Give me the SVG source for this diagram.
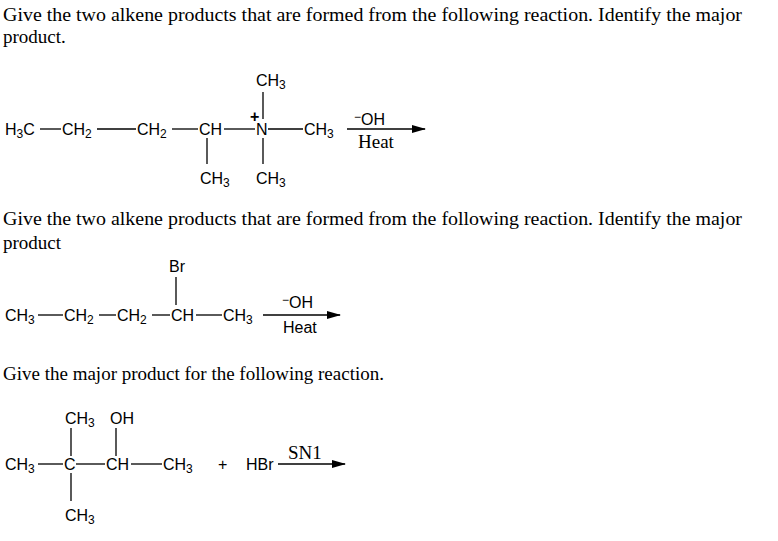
<svg xmlns="http://www.w3.org/2000/svg" width="778" height="541" viewBox="0 0 778 541">
<style>
.q{font-family:"Liberation Serif",serif;font-size:19px;fill:#000}
.c{font-family:"Liberation Sans",Arial,sans-serif;font-size:16px;fill:#000}
.s{font-size:12px}
line{stroke:#000;stroke-width:1.3}
</style>
<defs><marker id="ah" markerWidth="14" markerHeight="8" refX="13" refY="4" orient="auto" markerUnits="userSpaceOnUse"><path d="M0,0 L14,4 L0,8 Z" fill="#000"/></marker></defs>
<rect width="778" height="541" fill="#fff"/>
<g id="q1">
<text class="q" x="3" y="21" textLength="739" lengthAdjust="spacingAndGlyphs">Give the two alkene products that are formed from the following reaction. Identify the major</text>
<text class="q" x="3" y="43">product.</text>
</g>
<g id="m1">
<text class="c" x="5" y="135">H<tspan class="s" dy="3">3</tspan><tspan dy="-3">C</tspan></text>
<text class="c" x="62" y="135">CH<tspan class="s" dy="3">2</tspan></text>
<text class="c" x="137" y="135">CH<tspan class="s" dy="3">2</tspan></text>
<text class="c" x="199" y="135">CH</text>
<text class="c" x="256" y="135">N</text>
<text class="c" x="250" y="122" font-size="11" font-weight="bold">+</text>
<text class="c" x="304" y="135">CH<tspan class="s" dy="3">3</tspan></text>
<text class="c" x="256" y="86">CH<tspan class="s" dy="3">3</tspan></text>
<text class="c" x="256" y="184">CH<tspan class="s" dy="3">3</tspan></text>
<text class="c" x="200" y="184">CH<tspan class="s" dy="3">3</tspan></text>
<text class="c" x="354" y="125"><tspan font-size="12" dy="-4">−</tspan><tspan dy="4">OH</tspan></text>
<text class="q" x="358" y="148" font-size="17">Heat</text>
</g>
<g id="q2">
<text class="q" x="3" y="225" textLength="739" lengthAdjust="spacingAndGlyphs">Give the two alkene products that are formed from the following reaction. Identify the major</text>
<text class="q" x="3" y="249">product</text>
</g>
<g id="m2">
<text class="c" x="5" y="321">CH<tspan class="s" dy="3">3</tspan></text>
<text class="c" x="64" y="321">CH<tspan class="s" dy="3">2</tspan></text>
<text class="c" x="117" y="321">CH<tspan class="s" dy="3">2</tspan></text>
<text class="c" x="171" y="321">CH</text>
<text class="c" x="223" y="321">CH<tspan class="s" dy="3">3</tspan></text>
<text class="c" x="169" y="272">Br</text>
<text class="c" x="282" y="308"><tspan font-size="12" dy="-4">−</tspan><tspan dy="4">OH</tspan></text>
<text class="c" x="283" y="333">Heat</text>
</g>
<g id="q3"><text class="q" x="3" y="380">Give the major product for the following reaction.</text></g>
<g id="m3">
<text class="c" x="5" y="470">CH<tspan class="s" dy="3">3</tspan></text>
<text class="c" x="64" y="470">C</text>
<text class="c" x="106" y="470">CH</text>
<text class="c" x="163" y="470">CH<tspan class="s" dy="3">3</tspan></text>
<text class="c" x="65" y="424">CH<tspan class="s" dy="3">3</tspan></text>
<text class="c" x="110" y="424">OH</text>
<text class="c" x="65" y="521">CH<tspan class="s" dy="3">3</tspan></text>
<text class="c" x="218" y="470">+</text>
<text class="c" x="246" y="470">HBr</text>
<text class="q" x="288" y="459" font-size="17">SN1</text>
</g>
<g id="connectors">
<line x1="40" y1="129" x2="61" y2="129"/><line x1="97" y1="129" x2="136" y2="129"/>
<line x1="172" y1="129" x2="198" y2="129"/><line x1="224" y1="129" x2="255" y2="129"/>
<line x1="268" y1="129" x2="303" y2="129"/>
<line x1="263" y1="92" x2="263" y2="119"/><line x1="263" y1="138" x2="263" y2="164"/>
<line x1="207" y1="138" x2="207" y2="164"/>
<line x1="347" y1="129" x2="425" y2="129" marker-end="url(#ah)"/>
<line x1="38" y1="315" x2="63" y2="315"/><line x1="99" y1="315" x2="116" y2="315"/>
<line x1="152" y1="315" x2="170" y2="315"/><line x1="196" y1="315" x2="222" y2="315"/>
<line x1="176" y1="277" x2="176" y2="305"/>
<line x1="263" y1="315" x2="340" y2="315" marker-end="url(#ah)"/>
<line x1="38" y1="464" x2="63" y2="464"/><line x1="76" y1="464" x2="105" y2="464"/>
<line x1="131" y1="464" x2="162" y2="464"/>
<line x1="71" y1="428" x2="71" y2="456"/><line x1="71" y1="473" x2="71" y2="501"/>
<line x1="116" y1="428" x2="116" y2="456"/>
<line x1="278" y1="464" x2="345" y2="464" marker-end="url(#ah)"/>
</g>
</svg>
